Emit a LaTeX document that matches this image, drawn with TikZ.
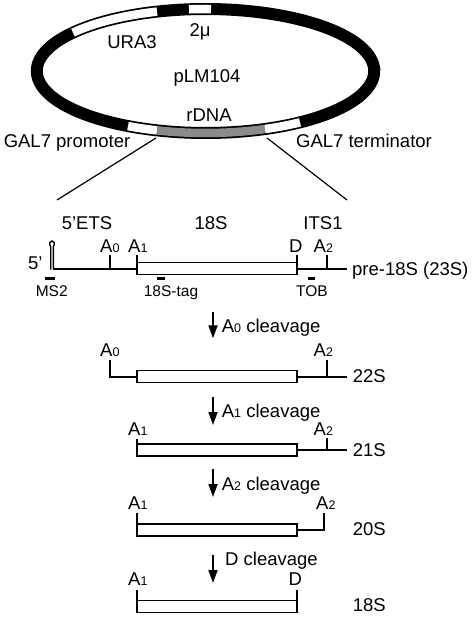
\documentclass[tikz,border=0pt]{standalone}
\usepackage{fontspec}
\setmainfont{Liberation Sans}
\usetikzlibrary{arrows.meta}
\newcommand{\sd}[1]{{\fontsize{12.5}{12}\selectfont #1}}
\definecolor{rdnagray}{HTML}{8A8A8A}
\begin{document}
\begin{tikzpicture}[x=1pt,y=-1pt,
  lbl/.style={font=\fontsize{18.5}{20}\selectfont, inner sep=0pt, anchor=base west},
  lblc/.style={font=\fontsize{18.5}{20}\selectfont, inner sep=0pt, anchor=base},
  sml/.style={font=\fontsize{15.5}{17}\selectfont, inner sep=0pt, anchor=base},
  rna/.style={line width=2pt},
  rbox/.style={draw, line width=1.8pt, fill=white, minimum width=160pt, minimum height=12pt, inner sep=0pt},
  probe/.style={line width=2.6pt},
  cleavearrow/.style={line width=1.8pt, -{Triangle[width=9pt,length=13pt]}},
  zoomline/.style={line width=1.2pt},
  band/.style={line width=12pt, black},
  whiteseg/.style={line width=8.5pt, white},
  grayseg/.style={line width=8.5pt, rdnagray}
]
\useasboundingbox (0,0) rectangle (474,620);
% ---------- plasmid ----------
\draw[band] plot[domain=0:360, samples=200] ({205.5+168.7*cos(\x)},{71+62*sin(\x)}) -- cycle;
\draw[whiteseg] plot[domain=106.7:117.35, samples=20] ({205.5+168.7*cos(\x)},{71+62*sin(\x)});
\draw[grayseg]  plot[domain=69.35:106.7, samples=40] ({205.5+168.7*cos(\x)},{71+62*sin(\x)});
\draw[whiteseg] plot[domain=55.93:69.35, samples=20] ({205.5+168.7*cos(\x)},{71+62*sin(\x)});
\draw[whiteseg] plot[domain=218.24:253.3, samples=40] ({205.5+168.7*cos(\x)},{71+62*sin(\x)});
\draw[whiteseg] plot[domain=264.39:271.87, samples=10] ({205.5+168.7*cos(\x)},{71+62*sin(\x)});
\node[lblc] (ura) at (132,48.5) {URA3};
\node[lblc] (twomu) at (200,37) {2μ};
\node[lblc] (plm) at (207,83) {pLM104};
\node[lblc] (rdna) at (209,122) {rDNA};
\node[lblc] (prom) at (67,148) {GAL7 promoter};
\node[lblc] (term) at (364,148) {GAL7 terminator};
% zoom lines
\coordinate (zl1) at (156,138); \coordinate (zl2) at (57,200);
\coordinate (zr1) at (267,138); \coordinate (zr2) at (347,200);
\draw[zoomline] (zl1) -- (zl2);
\draw[zoomline] (zr1) -- (zr2);
% ---------- pre-18S ----------
\node[lblc] (ets) at (87,229.5) {5’ETS};
\node[lblc] (s18h) at (211,229.5) {18S};
\node[lblc] (its) at (323,229.5) {ITS1};
\node[lbl] (fiveprime) at (28,269) {5’};
\draw[line width=1.4pt] (50.7,269.5) -- (50.7,247) .. controls (46.3,239) and (57.7,239) .. (53.3,247) -- (53.3,268.5);
\coordinate (p0) at (53.3,268.5);
\coordinate (pa0) at (110,268.5); \coordinate (pa0t) at (110,255);
\coordinate (pa1t) at (137,255); \coordinate (pa1b) at (137,262.5);
\coordinate (pdt) at (297,255); \coordinate (pdb) at (297,262.5);
\coordinate (pa2) at (326.5,268.5); \coordinate (pa2t) at (326.5,255);
\coordinate (pend) at (347,268.5);
\draw[rna] (p0) -- (137,268.5);
\draw[rna] (297,268.5) -- (pend);
\draw[rna] (pa0t) -- (pa0);
\draw[rna] (pa2t) -- (pa2);
\draw[rna] (pa1t) -- (pa1b);
\draw[rna] (pdt) -- (pdb);
\node[rbox] (box1) at (217,268.5) {};
\node[lbl] (la0) at (100,252) {A\sd{0}};
\node[lbl] (la1) at (128,252) {A\sd{1}};
\node[lbl] (ld) at (289,252) {D};
\node[lbl] (la2) at (313.5,252) {A\sd{2}};
\node[lbl] (pre) at (352,275) {pre-18S (23S)};
\draw[probe] (45,278.5) -- (55,278.5);
\draw[probe] (157,278.5) -- (165,278.5);
\draw[probe] (308,278.5) -- (315,278.5);
\node[sml] (ms2) at (51.7,296) {MS2};
\node[sml] (tag) at (171,296) {18S-tag};
\node[sml] (tob) at (312,296) {TOB};
% arrow 1
\coordinate (ar1a) at (213,311.7); \coordinate (ar1b) at (213,338.3);
\draw[cleavearrow] (ar1a) -- (ar1b);
\node[lbl] (c1) at (221.7,332.7) {A\sd{0} cleavage};
% ---------- 22S ----------
\draw[rna] (110,360) -- (110,376.5) -- (137,376.5);
\draw[rna] (297,376.5) -- (347,376.5);
\draw[rna] (326.5,360) -- (326.5,376.5);
\node[rbox] (box2) at (217,376.5) {};
\node[lbl] (b_a0) at (100,356) {A\sd{0}};
\node[lbl] (b_a2) at (313.5,356) {A\sd{2}};
\node[lbl] (s22) at (352.7,382) {22S};
% arrow 2
\coordinate (ar2a) at (213,397); \coordinate (ar2b) at (213,425);
\draw[cleavearrow] (ar2a) -- (ar2b);
\node[lbl] (c2) at (221.7,417) {A\sd{1} cleavage};
% ---------- 21S ----------
\draw[rna] (137,439) -- (137,444);
\draw[rna] (297,450) -- (347,450);
\draw[rna] (326.5,437.5) -- (326.5,450);
\node[rbox] (box3) at (217,450) {};
\node[lbl] (c_a1) at (128,435) {A\sd{1}};
\node[lbl] (c_a2) at (313.5,435) {A\sd{2}};
\node[lbl] (s21) at (352.7,456) {21S};
% arrow 3
\coordinate (ar3a) at (213,469); \coordinate (ar3b) at (213,497);
\draw[cleavearrow] (ar3a) -- (ar3b);
\node[lbl] (c3) at (221.7,490) {A\sd{2} cleavage};
% ---------- 20S ----------
\draw[rna] (137,513) -- (137,524);
\draw[rna] (297,530) -- (323.5,530) -- (323.5,513);
\node[rbox] (box4) at (217,530) {};
\node[lbl] (d_a1) at (128,509) {A\sd{1}};
\node[lbl] (d_a2) at (316,509) {A\sd{2}};
\node[lbl] (s20) at (352.7,535) {20S};
% arrow 4
\coordinate (ar4a) at (213,555); \coordinate (ar4b) at (213,583);
\draw[cleavearrow] (ar4a) -- (ar4b);
\node[lbl] (c4) at (225,565) {D cleavage};
% ---------- 18S ----------
\draw[rna] (137,590) -- (137,600.5);
\draw[rna] (297,590) -- (297,600.5);
\node[rbox] (box5) at (217,606.5) {};
\node[lbl] (e_a1) at (128,585) {A\sd{1}};
\node[lbl] (e_d) at (288.3,585) {D};
\node[lbl] (s18) at (352.7,611.7) {18S};
\end{tikzpicture}
\end{document}
